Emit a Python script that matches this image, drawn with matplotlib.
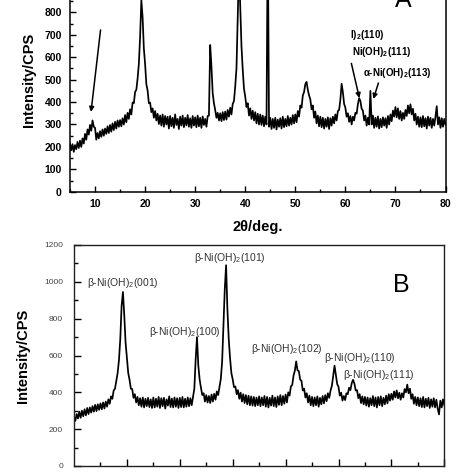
import numpy as np
import matplotlib
matplotlib.use("Agg")
import matplotlib.pyplot as plt

plt.rcParams['font.family'] = ['Liberation Sans', 'DejaVu Sans']
plt.rcParams['mathtext.default'] = 'regular'

# ---------------- data: panel A (2theta 5..80, step 0.25) ----------------
a_start, a_step = 5.0, 0.25
a_counts = [
    215, 185, 212, 178, 208, 190, 222, 195, 228, 200, 238, 215, 258, 232, 278, 255, 298, 272, 318, 290,
    285, 232, 262, 238, 270, 245, 278, 250, 282, 258, 292, 262, 298, 268, 305, 275, 312, 282, 318, 290,
    320, 292, 328, 300, 342, 310, 352, 325, 368, 345, 398, 395, 445, 455, 505, 570, 690, 855, 780, 640,
    570, 480, 452, 395, 398, 355, 372, 330, 360, 318, 348, 302, 340, 295, 345, 290, 338, 300, 335, 282,
    338, 292, 330, 285, 345, 298, 325, 280, 335, 295, 340, 288, 330, 296, 342, 290, 328, 285, 338, 295,
    332, 288, 340, 292, 330, 285, 336, 298, 325, 290, 338, 340, 655, 560, 440, 395, 365, 330, 352, 318,
    350, 315, 355, 320, 358, 322, 365, 335, 375, 345, 392, 405, 470, 550, 780, 1000, 830, 650, 545, 460,
    425, 378, 395, 340, 372, 325, 362, 318, 355, 305, 348, 300, 345, 298, 340, 292, 335, 300, 1200, 290,
    330, 280, 325, 285, 330, 278, 322, 290, 328, 282, 335, 288, 325, 292, 338, 295, 330, 300, 342, 305,
    345, 310, 360, 335, 385, 375, 430, 445, 480, 490, 455, 430, 412, 368, 385, 330, 358, 305, 340, 292,
    335, 288, 330, 282, 325, 290, 332, 280, 328, 295, 335, 305, 345, 318, 360, 365, 410, 482, 445, 392,
    375, 335, 350, 312, 338, 300, 335, 318, 352, 348, 390, 418, 405, 370, 362, 318, 340, 295, 330, 300,
    450, 300, 340, 285, 330, 290, 336, 282, 325, 288, 332, 295, 328, 285, 338, 300, 345, 315, 362, 335,
    378, 332, 372, 325, 360, 318, 352, 325, 365, 338, 385, 350, 390, 345, 370, 318, 348, 300, 335, 290,
    332, 288, 338, 292, 328, 282, 335, 295, 330, 285, 325, 295, 335, 382, 300, 332, 285, 328, 290, 325,
    300,
]

# ---------------- data: panel B (2theta 10..80, step 0.25) ----------------
b_start, b_step = 10.0, 0.25
b_counts = [
    270, 245, 282, 258, 295, 262, 300, 270, 308, 275, 315, 282, 318, 290, 325, 295, 332, 298, 335, 305,
    340, 308, 345, 312, 350, 322, 362, 338, 378, 365, 410, 420, 462, 505, 575, 690, 870, 945, 820, 670,
    590, 505, 468, 420, 418, 370, 390, 345, 375, 330, 368, 322, 372, 318, 365, 325, 370, 320, 362, 315,
    372, 318, 365, 322, 375, 315, 368, 325, 370, 312, 362, 328, 378, 320, 366, 318, 372, 322, 368, 315,
    370, 320, 375, 318, 365, 322, 372, 325, 368, 330, 375, 420, 580, 700, 545, 470, 425, 385, 395, 350,
    385, 345, 380, 342, 388, 350, 392, 360, 405, 385, 430, 472, 565, 760, 960, 1090, 850, 690, 585, 505,
    470, 428, 432, 390, 412, 365, 398, 350, 390, 342, 385, 335, 382, 330, 378, 328, 375, 325, 372, 330,
    378, 325, 372, 330, 380, 322, 375, 318, 370, 328, 382, 325, 372, 320, 378, 332, 385, 330, 380, 338,
    388, 345, 400, 382, 432, 440, 490, 518, 568, 520, 515, 470, 462, 410, 420, 372, 395, 345, 382, 330,
    375, 325, 372, 330, 378, 322, 370, 335, 380, 340, 385, 352, 395, 370, 410, 435, 490, 545, 495, 445,
    430, 382, 398, 355, 380, 358, 395, 390, 425, 412, 450, 468, 448, 410, 412, 368, 390, 342, 378, 335,
    375, 328, 372, 322, 368, 330, 380, 325, 372, 318, 375, 330, 378, 325, 370, 335, 382, 340, 390, 355,
    392, 360, 405, 372, 410, 368, 398, 360, 395, 372, 418, 400, 442, 395, 420, 365, 390, 338, 375, 330,
    372, 325, 368, 320, 375, 318, 365, 325, 370, 315, 362, 322, 368, 318, 360, 312, 280, 355, 318, 362,
    330,
]

a_two_theta = a_start + a_step * np.arange(len(a_counts))
b_two_theta = b_start + b_step * np.arange(len(b_counts))

a_labels = ['l)$_2$(110)', 'Ni(OH)$_2$(111)', r'$\alpha$-Ni(OH)$_2$(113)']
a_label_pos = [(61.0, 700), (61.4, 624), (63.6, 530)]
a_arrows = [((11.1, 722), (9.2, 356)), ((61.2, 573), (62.8, 418)), ((66.6, 485), (65.6, 414))]

b_labels = ['β-Ni(OH)$_2$(001)', 'β-Ni(OH)$_2$(101)', 'β-Ni(OH)$_2$(100)',
            'β-Ni(OH)$_2$(102)', 'β-Ni(OH)$_2$(110)', 'β-Ni(OH)$_2$(111)']
b_label_pos = [(19.3, 994), (39.5, 1129), (31.0, 728), (50.3, 635), (64.1, 586), (67.7, 494)]

W = 474
fig = plt.figure(figsize=(4.74, 4.74), dpi=100)

# ---------------- panel A ----------------
axA = fig.add_axes([70 / W, (W - 191.7) / W, 375.5 / W, 224 / W])
axA.plot(a_two_theta, a_counts, color='black', lw=1.25)
axA.set_xlim(5, 80)
axA.set_ylim(0, 1000)
axA.set_xticks(np.arange(10, 81, 10))
axA.set_xticks(np.arange(5, 81, 5), minor=True)
axA.set_yticks(np.arange(0, 801, 100))
axA.set_yticks(np.arange(0, 1000, 50), minor=True)
axA.tick_params(which='both', direction='in', labelsize=7.5, width=1, top=False, right=False)
axA.tick_params(which='major', length=4.5)
axA.tick_params(which='minor', length=2.5)
axA.tick_params(axis='y', pad=6)
axA.tick_params(axis='x', pad=5)
for lab in axA.get_xticklabels() + axA.get_yticklabels():
    lab.set_fontweight('bold')
for s in axA.spines.values():
    s.set_linewidth(1.1)
axA.set_xlabel('2θ/deg.', fontsize=10.5, fontweight='bold', labelpad=8)
axA.set_ylabel('Intensity/CPS', fontsize=10.5, fontweight='bold', labelpad=6)
axA.text(71.5, 824, 'A', fontsize=18, ha='center', va='baseline')
for txt, (x, y) in zip(a_labels, a_label_pos):
    axA.text(x, y, txt, fontsize=7, fontweight='bold', ha='left', va='center')
for (p0, p1) in a_arrows:
    axA.annotate('', xy=p1, xytext=p0,
                 arrowprops=dict(arrowstyle='-|>', color='black', lw=1.1, mutation_scale=7,
                                 shrinkA=0, shrinkB=0))

# ---------------- panel B ----------------
axB = fig.add_axes([74 / W, 8 / W, 370.3 / W, 221 / W])
axB.plot(b_two_theta, b_counts, color='black', lw=1.25)
axB.set_xlim(10, 80)
axB.set_ylim(0, 1200)
axB.set_xticks(np.arange(20, 81, 10))
axB.set_xticks(np.arange(15, 80, 5), minor=True)
axB.set_yticks(np.arange(0, 1201, 200))
axB.set_yticks(np.arange(100, 1200, 200), minor=True)
axB.tick_params(which='both', direction='in', width=1, top=False, right=False)
axB.tick_params(which='major', length=5)
axB.tick_params(which='minor', length=3)
axB.tick_params(axis='x', labelbottom=False)
axB.tick_params(axis='y', labelsize=6, labelcolor='#444444', pad=8)
for s in axB.spines.values():
    s.set_linewidth(1.0)
    s.set_color('#222222')
axB.set_ylabel('Intensity/CPS', fontsize=10.5, fontweight='bold', labelpad=10)
axB.text(71.9, 983, 'B', fontsize=18, ha='center', va='center')
for txt, (x, y) in zip(b_labels, b_label_pos):
    axB.text(x, y, txt, fontsize=7.5, color='#333333', ha='center', va='center')

fig.savefig('out.png', dpi=100)
